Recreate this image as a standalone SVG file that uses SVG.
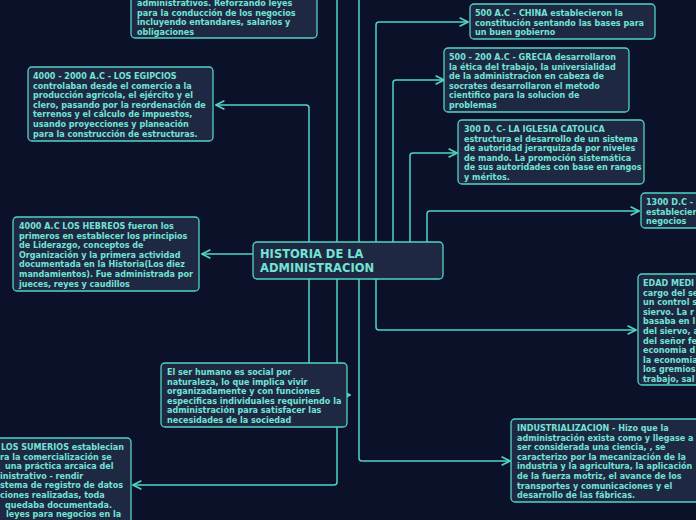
<svg xmlns="http://www.w3.org/2000/svg" width="696" height="520" viewBox="0 0 696 520">
<defs>
<style>
.n rect{fill:#1f2842;stroke:#52d3c4;stroke-width:1.3}
.n text{font-family:"DejaVu Sans",Verdana,sans-serif;font-weight:bold;font-size:8.05px;fill:#72e4d4}
.c path{fill:none;stroke:#52d3c4;stroke-width:1.5}
.t{font-size:11.5px!important}
</style>
<marker id="a" viewBox="0 0 10 10" refX="9" refY="5" markerWidth="7" markerHeight="7" orient="auto"><path d="M1,1 L9,5 L1,9" fill="none" stroke="#52d3c4" stroke-width="1.6"/></marker>
</defs>
<rect width="696" height="520" fill="#0b1129"/>
<g class="c">
<path d="M309,242 V108 Q309,105 306,105 H216" marker-end="url(#a)"/>
<path d="M253,254 H202" marker-end="url(#a)"/>
<path d="M309,279 V363"/>
<path d="M337,0 V482 Q337,485 334,485 H133" marker-end="url(#a)"/>
<path d="M359,0 V458 Q359,461 362,461 H510" marker-end="url(#a)"/>
<path d="M376,242 V25 Q376,22 379,22 H468" marker-end="url(#a)"/>
<path d="M376,279 V327 Q376,330 379,330 H636" marker-end="url(#a)"/>
<path d="M393,242 V83 Q393,80 396,80 H444" marker-end="url(#a)"/>
<path d="M410,242 V156 Q410,153 413,153 H457" marker-end="url(#a)"/>
<path d="M427,242 V214 Q427,211 430,211 H639" marker-end="url(#a)"/>
<path d="M346,395 H350" marker-end="url(#a)"/>
</g>
<g class="n" id="n-top"><rect x="131" y="-10" width="186" height="48" rx="4"/>
<text x="137" y="6">administrativos. Reforzando leyes</text><text x="137" y="15.5">para la conducción de los negocios</text><text x="137" y="25">incluyendo entandares, salarios y</text><text x="137" y="34.5">obligaciones</text></g>
<g class="n" id="n-egipcios"><rect x="28" y="67" width="185" height="74" rx="4"/>
<text x="33" y="79">4000 - 2000 A.C - LOS EGIPCIOS</text><text x="33" y="88.6">controlaban desde el comercio a la</text><text x="33" y="98.2">producción agrícola, el ejército y el</text><text x="33" y="107.8">clero, pasando por la reordenación de</text><text x="33" y="117.4">terrenos y el cálculo de impuestos,</text><text x="33" y="127">usando proyecciones y planeación</text><text x="33" y="136.6">para la construcción de estructuras.</text></g>
<g class="n" id="n-hebreos"><rect x="13" y="217" width="186" height="74" rx="4"/>
<text x="19" y="229">4000 A.C LOS HEBREOS fueron los</text><text x="19" y="238.6">primeros en establecer los  principios</text><text x="19" y="248.2">de Liderazgo, conceptos de</text><text x="19" y="257.8">Organización y la primera actividad</text><text x="19" y="267.4">documentada en la Historia(Los diez</text><text x="19" y="277">mandamientos). Fue administrada por</text><text x="19" y="286.6">jueces, reyes y caudillos</text></g>
<g class="n" id="n-center"><rect x="253" y="242" width="190" height="37" rx="4"/>
<text class="t" x="260" y="258">HISTORIA DE LA</text><text class="t" x="260" y="272">ADMINISTRACION</text></g>
<g class="n" id="n-china"><rect x="470" y="4" width="185" height="35" rx="4"/>
<text x="475" y="16">500 A.C - CHINA establecieron la</text><text x="475" y="25.6">constitución sentando las bases para</text><text x="475" y="35.2">un buen gobierno</text></g>
<g class="n" id="n-grecia"><rect x="444" y="48" width="185" height="64" rx="4"/>
<text x="449" y="60">500 - 200 A.C - GRECIA desarrollaron</text><text x="449" y="69.6">la ética del trabajo, la universialidad</text><text x="449" y="79.2">de la administracion en cabeza de</text><text x="449" y="88.8">socrates desarrollaron el metodo</text><text x="449" y="98.4">cientifico para la solucion de</text><text x="449" y="108">problemas</text></g>
<g class="n" id="n-iglesia"><rect x="458" y="120" width="186" height="64" rx="4"/>
<text x="464" y="132">300 D. C- LA IGLESIA CATOLICA</text><text x="464" y="141.6">estructura el desarrollo de un sistema</text><text x="464" y="151.2">de autoridad jerarquizada por niveles</text><text x="464" y="160.8">de mando. La promoción sistemática</text><text x="464" y="170.4">de sus autoridades con base en rangos</text><text x="464" y="180">y méritos.</text></g>
<g class="n" id="n-1300"><rect x="641" y="193" width="70" height="35" rx="4"/>
<text x="646" y="205">1300 D.C -</text><text x="646" y="214.6">establecier</text><text x="646" y="224.2">negocios</text></g>
<g class="n" id="n-edad"><rect x="638" y="274" width="70" height="111" rx="4"/>
<text x="643" y="286">EDAD MEDI</text><text x="643" y="295.6">cargo del se</text><text x="643" y="305.2">un control s</text><text x="643" y="314.8">siervo. La r</text><text x="643" y="324.4">basaba en l</text><text x="643" y="334">del siervo, a</text><text x="643" y="343.6">del señor fe</text><text x="643" y="353.2">economia d</text><text x="643" y="362.8">la economia</text><text x="643" y="372.4">los gremios</text><text x="643" y="382">trabajo, sal</text></g>
<g class="n" id="n-industria"><rect x="511" y="419" width="195" height="83" rx="4"/>
<text x="517" y="431">INDUSTRIALIZACION - Hizo que la</text><text x="517" y="440.6">administración exista como y llegase a</text><text x="517" y="450.2">ser considerada una ciencia, , se</text><text x="517" y="459.8">caracterizo por la mecanización de la</text><text x="517" y="469.4">industria y la agricultura, la aplicación</text><text x="517" y="479">de la fuerza motriz, el avance de los</text><text x="517" y="488.6">transportes y comunicaciones y el</text><text x="517" y="498.2">desarrollo de las fábricas.</text></g>
<g class="n" id="n-humano"><rect x="161" y="363" width="186" height="64" rx="4"/>
<text x="167" y="375">El ser humano es social por</text><text x="167" y="384.6">naturaleza, lo que implica vivir</text><text x="167" y="394.2">organizadamente y con funciones</text><text x="167" y="403.8">especificas individuales requiriendo la</text><text x="167" y="413.4">administración para satisfacer las</text><text x="167" y="423">necesidades de la sociedad</text></g>
<g class="n" id="n-sumerios"><rect x="-10" y="438" width="141" height="92" rx="4"/>
<text x="1" y="450">LOS SUMERIOS establecian</text><text x="0" y="459.6">ra la comercialización se</text><text x="5" y="469.2">una práctica arcaica del</text><text x="0" y="478.8">inistrativo - rendir</text><text x="0" y="488.4">stema de registro de datos</text><text x="0" y="498">ciones realizadas, toda</text><text x="5" y="507.6">quedaba documentada.</text><text x="6" y="517.2">leyes para negocios en la</text></g>
</svg>
